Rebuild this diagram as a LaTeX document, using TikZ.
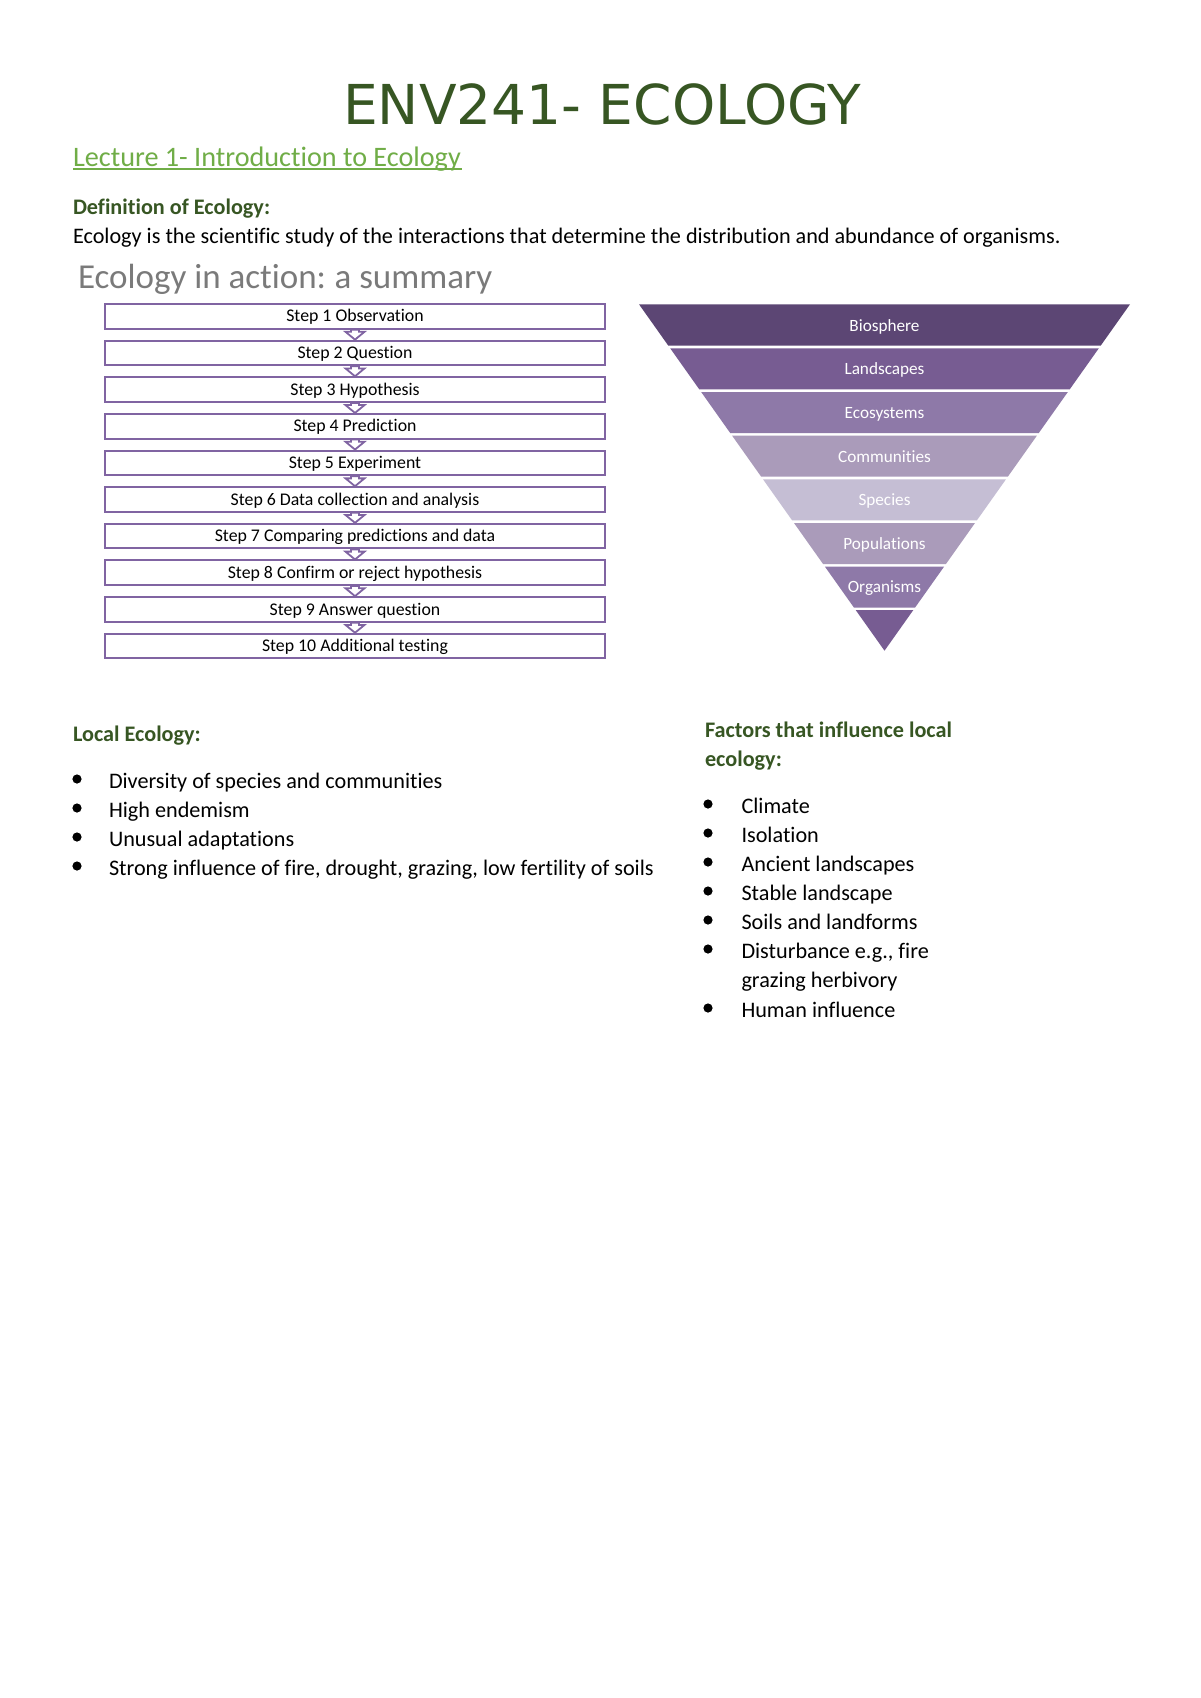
\documentclass[tikz,border=0pt]{standalone}
\usepackage{fontspec}
\setmainfont[Ligatures=NoCommon]{Carlito}
\newfontfamily\titlefont{DejaVu Sans}
\usetikzlibrary{calc}
\definecolor{titlegreen}{HTML}{375623}
\definecolor{lecgreen}{HTML}{70AD47}
\definecolor{boxpurple}{HTML}{8064A2}
\definecolor{graytxt}{HTML}{7A7A7A}
\definecolor{bandA}{HTML}{5C4674}
\definecolor{bandB}{HTML}{775C92}
\definecolor{bandC}{HTML}{8E79A8}
\definecolor{bandD}{HTML}{AA9BBA}
\definecolor{bandE}{HTML}{C5BED4}
\newcommand{\fs}[1]{\fontsize{#1}{#1}\selectfont}
\tikzset{
  x=0.5pt,y=-0.5pt,
  txt/.style={anchor=base west,inner sep=0pt,outer sep=0pt},
  body/.style={txt,font=\fs{11.1},text=black},
  head/.style={txt,font=\fs{11.1}\bfseries,text=titlegreen},
  stepbox/.style={draw=boxpurple,line width=1pt,fill=white,minimum width=250pt,minimum height=12.3pt,inner sep=0pt,font=\fs{8.9},text=black,text height=6.6pt,text depth=1pt},
  flow/.style={draw=boxpurple,line width=0.9pt,fill=white,line join=miter},
  bullet/.style={circle,fill=black,inner sep=0pt,minimum width=4.6pt},
  band/.style={fill=#1,draw=none},
  bandlabel/.style={font=\fs{8.6},text=white,inner sep=0pt},
}
\begin{document}
\begin{tikzpicture}
\useasboundingbox (0,0) rectangle (1200,1698);
\fill[white] (0,0) rectangle (1200,1698);
\node[anchor=base,inner sep=0pt,font=\titlefont\fs{27.5},text=titlegreen] (title) at (602,124) {ENV241- ECOLOGY};
\node[txt,font=\fs{14.1},text=lecgreen] (lecture) at (73,166) {Lecture 1- Introduction to Ecology};
\draw[lecgreen,line width=0.8pt] (73,169) -- (462,169);
\node[head] (defh) at (73,214) {Definition of Ecology:};
\node[body] (def) at (73,243) {Ecology is the scientific study of the interactions that determine the distribution and abundance of organisms.};
\node[txt,font=\fs{17.5},text=graytxt] (summary) at (78,288) {Ecology in action:\hspace{-1pt} a summary};
% step boxes
\foreach \i/\t in {1/Step 1 Observation,2/Step 2 Question,3/Step 3 Hypothesis,4/Step 4 Prediction,5/Step 5 Experiment,6/Step 6 Data collection and analysis,7/Step 7 Comparing predictions and data,8/Step 8 Confirm or reject hypothesis,9/Step 9 Answer question,10/Step 10 Additional testing}
  \node[stepbox] (s\i) at (355,{316.3+36.64*(\i-1)}) {\t};
\foreach \a/\b in {1/2,2/3,3/4,4/5,5/6,6/7,7/8,8/9,9/10}
  \draw[flow] ($(s\a.south)+(-4,0)$) -- ($(s\a.south)+(4,0)$) -- ($(s\a.south)+(4,2.2)$) -- ($(s\a.south)+(9.5,2.2)$) -- (s\b.north) -- ($(s\a.south)+(-9.5,2.2)$) -- ($(s\a.south)+(-4,2.2)$) -- cycle;
% pyramid
\foreach \ya/\yb/\c in {304.3/345.7/bandA,348.3/389.3/bandB,392/433/bandC,435.7/476.7/bandD,479.3/520.3/bandE,523/564/bandD,566.7/607.7/bandC,610/650.7/bandB}
  \fill[band=\c] ({884.5-0.7087*(650.7-\ya)},\ya) -- ({884.5+0.7087*(650.7-\ya)},\ya) -- ({884.5+0.7087*(650.7-\yb)},\yb) -- ({884.5-0.7087*(650.7-\yb)},\yb) -- cycle;
\foreach \n/\y/\t in {biosphere/326.6/Biosphere,landscapes/370/Landscapes,ecosystems/414.3/Ecosystems,communities/456.5/Communities,species/501/Species,populations/544.6/Populations,organisms/587.8/Organisms}
  \node[bandlabel] (\n) at (884.5,\y) {\t};
% local ecology
\node[head] (localh) at (73,741) {Local Ecology:};
\foreach \i/\y/\t in {1/788/Diversity of species and communities,2/817/High endemism,3/846/Unusual adaptations,4/875/{Strong influence of fire, drought, grazing, low fertility of soils}}{
  \node[bullet] (lb\i) at (77,\y-9) {};
  \node[body] (lt\i) at (109,\y) {\t};
}
% factors
\node[head] (facth1) at (705,737) {Factors that influence local};
\node[head] (facth2) at (705,766) {ecology:};
\foreach \i/\y/\t in {1/813/Climate,2/842/Isolation,3/871/Ancient landscapes,4/900/Stable landscape,5/929/Soils and landforms,6/958/{Disturbance e.g., fire},8/1017/Human influence}{
  \node[bullet] (fb\i) at (708,\y-9) {};
  \node[body] (ft\i) at (741.5,\y) {\t};
}
\node[body] (ft7) at (741.5,987) {grazing herbivory};
\end{tikzpicture}
\end{document}
